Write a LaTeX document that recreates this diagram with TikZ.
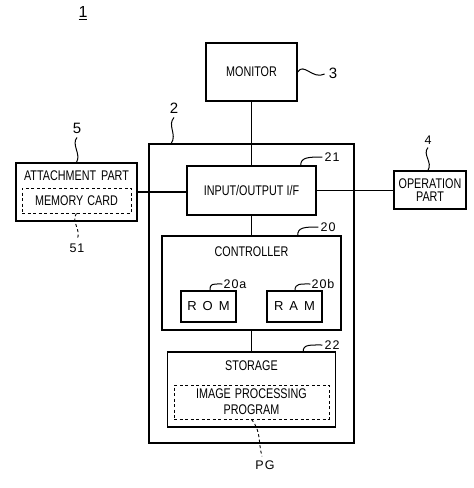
\documentclass[tikz,border=0pt]{standalone}
\usepackage{fontspec}
\setmainfont{Liberation Sans}[FakeStretch=0.77]
\newfontfamily\numfont{Liberation Sans}[LetterSpace=8]
\newfontfamily\romfont{Liberation Sans}
\usetikzlibrary{calc}
\begin{document}
\begin{tikzpicture}[x=1pt,y=-1pt,
  box/.style={draw,line width=1.4pt,inner sep=0pt},
  dbox/.style={draw,line width=0.9pt,inner sep=0pt,dash pattern=on 3pt off 2.5pt},
  txt/.style={font=\fontsize{14}{13.5}\selectfont,inner sep=0pt,align=center},
  rtxt/.style={font=\romfont\fontsize{13}{13.5}\selectfont,inner sep=0pt},
  num/.style={font=\numfont\fontsize{12.5}{12.5}\selectfont,inner sep=0pt},
  numL/.style={font=\numfont\fontsize{15}{15}\selectfont,inner sep=0pt},
  conn/.style={line width=1.4pt},
  lead/.style={line width=1pt},
  dlead/.style={line width=0.9pt,dash pattern=on 3pt off 2.5pt}]
\useasboundingbox (0,0) rectangle (474,488);
% labels
\node[numL,font=\numfont\fontsize{16}{16}\selectfont] (l1) at (83,13) {\underline{1}};
\node[numL] (l2) at (174,108) {2};
\node[numL] (l3) at (333,73) {3};
\node[num] (l4) at (428,140) {4};
\node[numL] (l5) at (77,128) {5};
\node[num] (l51) at (77,248) {51};
\node[num] (l21) at (332,157) {21};
\node[num] (l20) at (328,227) {20};
\node[num] (l20a) at (235,284) {20a};
\node[num] (l20b) at (323,284) {20b};
\node[num] (l22) at (332,345) {22};
\node[num] (lpg) at (265,465) {PG};
% boxes
\node[box,txt,minimum width=91pt,minimum height=58pt] (mon) at (251.5,72) {MONITOR};
\node[box,minimum width=205pt,minimum height=299pt] (main) at (251.5,293.5) {};
\node[box,txt,minimum width=129pt,minimum height=49pt] (io) at (251.5,190.5) {INPUT/OUTPUT I/F};
\node[box,txt,minimum width=72pt,minimum height=38pt] (op) at (430,190) {OPERATION\\PART};
\node[box,minimum width=121pt,minimum height=58pt] (att) at (76.5,192) {};
\node[txt] (attt) at (76.5,176) {ATTACHMENT\hspace{5pt}PART};
\node[dbox,txt,minimum width=109pt,minimum height=25pt] (mc) at (76.5,200.5) {MEMORY\hspace{4pt}CARD};
\node[box,minimum width=179pt,minimum height=94pt] (ctrl) at (251.5,283) {};
\node[txt] (ctrlt) at (251.5,252) {CONTROLLER};
\node[box,rtxt,minimum width=55pt,minimum height=31pt] (rom) at (208.5,306.5) {R\hspace{6pt}O\hspace{6pt}M};
\node[box,rtxt,minimum width=55pt,minimum height=31pt] (ram) at (294.5,306.5) {R\hspace{6pt}A\hspace{6pt}M};
\node[box,minimum width=168pt,minimum height=75pt] (sto) at (251.5,389.5) {};
\node[txt] (stot) at (251.5,366) {STORAGE};
\node[dbox,txt,font=\fontsize{14}{16}\selectfont,minimum width=155pt,minimum height=34pt] (ipp) at (251.5,402) {IMAGE\hspace{4pt}PROCESSING\\PROGRAM};
% connectors
\draw[conn] (mon.south) -- (io.north);
\draw[conn] (att.east) -- (att.east -| io.west);
\draw[conn] (io.east) -- (io.east -| op.west);
\draw[conn] (io.south) -- (ctrl.north);
\draw[conn] (ctrl.south) -- (sto.north);
% leaders
\coordinate (s2) at ($(l2.south)+(0,4)$);
\coordinate (e2) at ($(main.north west)+(23,0)$);
\draw[lead] (s2) .. controls ($(s2)+(-7,8)$) and ($(e2)+(6,-9)$) .. (e2);
\coordinate (s4) at ($(l4.south)+(0,3)$);
\coordinate (e4) at ($(op.north)+(-2,0)$);
\draw[lead] (s4) .. controls ($(s4)+(-6,7)$) and ($(e4)+(5,-8)$) .. (e4);
\coordinate (s5) at ($(l5.south)+(0,4)$);
\coordinate (e5) at (att.north);
\draw[lead] (s5) .. controls ($(s5)+(-6,7)$) and ($(e5)+(5,-8)$) .. (e5);
\coordinate (e51) at ($(l51.north)+(0,-4)$);
\draw[dlead] (mc.south) .. controls ($(mc.south)+(-6,8)$) and ($(e51)+(5,-9)$) .. (e51);
\coordinate (e3) at ($(l3.west)+(-4,1)$);
\draw[lead] (mon.east) .. controls ($(mon.east)+(6,-10)$) and ($(e3)+(-12,6)$) .. (e3);
\coordinate (s21) at ($(io.north east)+(-16,0)$);
\coordinate (e21) at ($(l21.west)+(-2,0)$);
\draw[lead] (s21) .. controls ($(s21)+(0,-8)$) and ($(e21)+(-14,0)$) .. (e21);
\coordinate (s20) at ($(ctrl.north east)+(-44,0)$);
\coordinate (e20) at ($(l20.west)+(-2,0)$);
\draw[lead] (s20) .. controls ($(s20)+(0,-8)$) and ($(e20)+(-14,0)$) .. (e20);
\coordinate (s22) at ($(sto.north east)+(-33,0)$);
\coordinate (e22) at ($(l22.west)+(-2,0)$);
\draw[lead] (s22) .. controls ($(s22)+(0,-7)$) and ($(e22)+(-12,0)$) .. (e22);
\coordinate (s20a) at ($(rom.north)+(1.5,0)$);
\coordinate (e20a) at ($(l20a.west)+(-1,0)$);
\draw[lead] (s20a) .. controls ($(s20a)+(0,-7)$) and ($(e20a)+(-10,0)$) .. (e20a);
\coordinate (s20b) at ($(ram.north)+(0.5,0)$);
\coordinate (e20b) at ($(l20b.west)+(-1,0)$);
\draw[lead] (s20b) .. controls ($(s20b)+(0,-7)$) and ($(e20b)+(-10,0)$) .. (e20b);
\coordinate (epg) at ($(lpg.north)+(-3,-4)$);
\draw[dlead] (ipp.south) .. controls ($(ipp.south)+(10,12)$) and ($(epg)+(-4,-14)$) .. (epg);
\end{tikzpicture}
\end{document}
